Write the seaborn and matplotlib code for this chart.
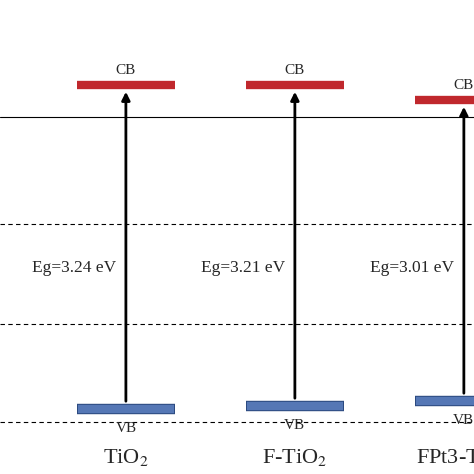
import matplotlib
matplotlib.use("Agg")
import matplotlib.pyplot as plt
import seaborn as sns

samples = ["TiO$_2$", "F-TiO$_2$", "FPt3-TiO$_2$"]
cb = [-0.32, -0.32, -0.17]
eg = [3.24, 3.21, 3.01]
vb = [c + e for c, e in zip(cb, eg)]
dashed_levels = [1.07, 2.07, 3.05]

sns.set_style("white")
plt.rcParams["font.family"] = ["Liberation Serif", "DejaVu Serif"]
plt.rcParams["mathtext.fontset"] = "stix"

fig = plt.figure(figsize=(4.74, 4.74), dpi=100)
ax = fig.add_axes([0, 0, 1, 1])
ax.set_xlim(-0.745, 2.06)
ax.set_ylim(3.57, -1.17)
ax.axis("off")

ax.axhline(0, color="black", lw=0.8)
for y in dashed_levels:
    ax.axhline(y, color="black", lw=0.8, ls=(0, (4, 3)))

w = 0.29
for i, (c, v, e, name) in enumerate(zip(cb, vb, eg, samples)):
    ax.hlines(c, i - w, i + w, color="#c0282d", lw=6)
    ax.hlines(v, i - w, i + w, color="#2c4a80", lw=7.5)
    ax.hlines(v, i - w + 0.005, i + w - 0.005, color="#5577b5", lw=6)
    ax.annotate("", xy=(i, c + 0.04), xytext=(i, v - 0.05),
                arrowprops=dict(arrowstyle="-|>", color="black", lw=2, mutation_scale=12))
    ax.text(i, c - 0.08, "CB", ha="center", va="bottom", fontsize=11)
    ax.text(i, v + 0.13, "VB", ha="center", va="top", fontsize=11)
    ax.text(i, 3.41, name, ha="center", va="center", fontsize=16)
    ax.text(i - 0.06, 1.51, f"Eg={e:.2f} eV", ha="right", va="center", fontsize=12.5)

fig.savefig("out.png", dpi=100)
